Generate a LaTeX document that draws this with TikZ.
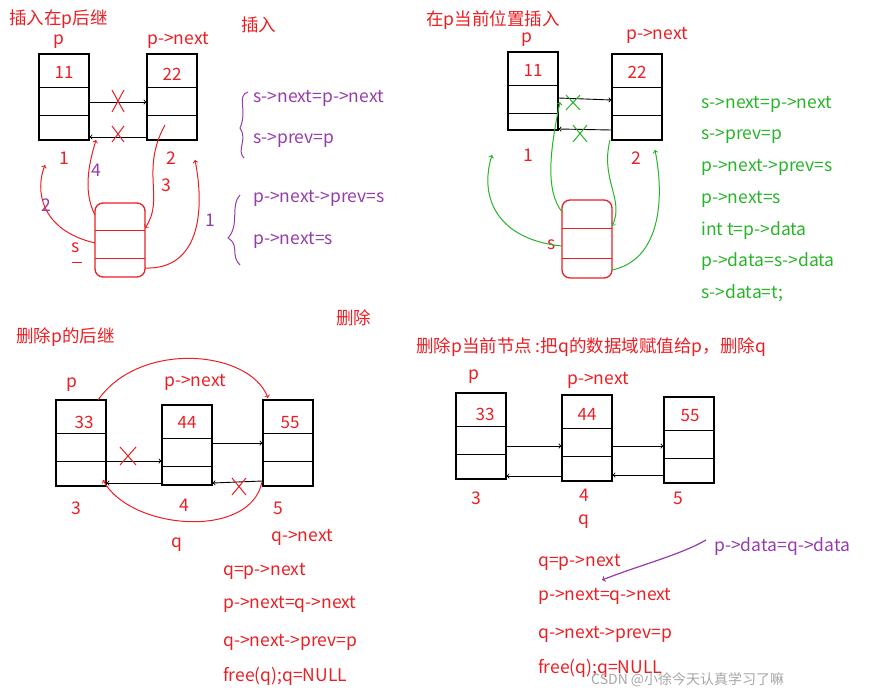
\documentclass[tikz,border=0pt]{standalone}
\usepackage{fontspec}
\setmainfont{Noto Sans CJK SC}
\usetikzlibrary{calc}
\definecolor{rd}{RGB}{235,30,35}
\definecolor{pu}{RGB}{150,60,170}
\definecolor{gr}{RGB}{40,180,40}
\tikzset{
 cell/.style={draw=black,line width=1.3pt,minimum width=50pt,minimum height=86pt,inner sep=0pt},
 rl/.style={rd,line width=1pt},
 gl/.style={gr,line width=1pt},
 bl/.style={black,line width=0.9pt,->},
 t/.style={font=\fontsize{17.5}{19}\selectfont,inner sep=1pt,anchor=west},
 num/.style={font=\fontsize{17}{19}\selectfont,rd},
}
\newcommand{\rows}[1]{\draw[line width=1.3pt] ($(#1.north west)+(0,34)$)--($(#1.north east)+(0,34)$) ($(#1.north west)+(0,62)$)--($(#1.north east)+(0,62)$);}
\begin{document}
\begin{tikzpicture}[x=1pt,y=-1pt]
\useasboundingbox (0,0) rectangle (878,699);
% ---------- top left
\node[t,rd] (h1) at (8,19) {插入在p后继};
\node[t,rd] (h2) at (240,25) {插入};
\node[t,rd] (lp1) at (52,42) {p};
\node[t,rd] (ln1) at (146,40) {p->next};
\node[cell] (a1) at (64,97) {}; \rows{a1}
\node[cell] (a2) at (172,97) {}; \rows{a2}
\node[num] at (64,72) {11};
\node[num] at (172,74) {22};
\draw[bl] ($(a1.east)+(0,5)$) -- ($(a2.west)+(0,5)$);
\draw[bl] ($(a2.west)+(0,40)$) -- ($(a1.east)+(0,40)$);
\draw[rl] (112,90)--(124,112) (112,112)--(124,90);
\draw[rl] (112,126)--(124,142) (112,142)--(124,126);
\node[draw=rd,line width=1.3pt,rounded corners=8pt,minimum width=50pt,minimum height=74pt] (s1) at (120,240) {};
\draw[rd,line width=1pt] (95,230)--(145,230) (95,258)--(145,258);
\node[t,rd] at (58,158) {1}; \node[t,pu] at (90,170) {4};
\node[t,rd] at (165,158) {2}; \node[t,rd] at (160,185) {3};
\node[t,pu] at (40,205) {2}; \node[t,pu] at (204,220) {1};
\node[t,rd] at (70,248) {s};
\draw[rd] (72,262)--(82,262);
\draw[rl,->] (95,243) .. controls (40,230) and (35,190) .. (45,165);
\draw[rl,->] (95,215) .. controls (82,190) and (90,160) .. (96,140);
\draw[rl,->] (165,125) .. controls (140,170) and (165,200) .. (145,228);
\draw[rl,->] (145,268) .. controls (200,270) and (205,210) .. (195,160);
\draw[pu,line width=1pt] (248,92) .. controls (236,96) and (248,110) .. (240,128) .. controls (248,140) and (236,150) .. (244,158);
\node[t,pu] at (252,98) {s->next=p->next};
\node[t,pu] at (252,140) {s->prev=p};
\draw[pu,line width=1pt] (240,195) .. controls (230,205) and (240,225) .. (228,238) .. controls (240,245) and (230,255) .. (240,265);
\node[t,pu] at (252,198) {p->next->prev=s};
\node[t,pu] at (252,240) {p->next=s};
% ---------- top right
\node[t,rd] at (425,20) {在p当前位置插入};
\node[t,rd] at (520,40) {p};
\node[t,rd] at (625,35) {p->next};
\node[cell,minimum height=78pt] (b1) at (533,91) {}; \rows{b1}
\node[cell] (b2) at (637,97) {}; \rows{b2}
\node[num] at (533,70) {11};
\node[num] at (637,72) {22};
\draw[bl] ($(b1.east)+(0,7)$) -- ($(b2.west)+(0,3)$);
\draw[bl] ($(b2.west)+(0,33)$) -- ($(b1.east)+(0,38)$);
\node[t,rd] at (522,155) {1}; \node[t,rd] at (630,158) {2};
\node[draw=rd,line width=1.3pt,rounded corners=8pt,minimum width=50pt,minimum height=78pt] (s2) at (587,239) {};
\draw[rd,line width=1pt] (562,228)--(612,228) (562,258)--(612,258);
\node[t,rd] at (546,245) {s};
\draw[gl,->] (562,246) .. controls (500,240) and (478,200) .. (492,155);
\draw[gl,->] (562,212) .. controls (545,190) and (550,150) .. (560,102);
\draw[gl,->] (610,140) .. controls (600,180) and (625,200) .. (612,226);
\draw[gl,->] (612,270) .. controls (660,260) and (665,200) .. (655,150);
\draw[gl] (566,95)--(580,110) (566,110)--(580,95);
\draw[gl] (573,125)--(587,142) (573,142)--(587,125);
\foreach \s [count=\i] in {s->next=p->next,s->prev=p,p->next->prev=s,p->next=s,int t=p->data,p->data=s->data,s->data=t;}
  \node[t,gr] at (700,{73+31.5*\i}) {\s};
% ---------- bottom left
\node[t,rd] at (15,337) {删除p的后继};
\node[t,rd] at (335,318) {删除};
\node[t,rd] at (65,385) {p};
\node[t,rd] at (163,382) {p->next};
\node[cell] (c1) at (81,443) {}; \rows{c1}
\node[cell,minimum height=80pt] (c2) at (187,445) {}; \rows{c2}
\node[cell] (c3) at (288,443) {}; \rows{c3}
\node[num] at (84,422) {33};
\node[num] at (187,422) {44};
\node[num] at (290,423) {55};
\draw[bl] ($(c1.east)+(0,18)$) -- ($(c2.west)+(0,16)$);
\draw[bl] ($(c2.west)+(0,38)$) -- ($(c1.east)+(0,40)$);
\draw[bl] ($(c2.east)+(0,-2)$) -- ($(c3.west)+(0,0)$);
\draw[bl] ($(c3.west)+(0,38)$) -- ($(c2.east)+(0,38)$);
\draw[rl] (120,447)--(136,465) (120,465)--(136,447);
\draw[rl] (232,478)--(246,495) (232,495)--(246,478);
\draw[rl,->] (98,400) .. controls (140,340) and (250,350) .. (268,398);
\draw[rl,->] (262,482) .. controls (250,540) and (130,530) .. (103,480);
\node[t,rd] at (70,508) {3}; \node[t,rd] at (178,505) {4}; \node[t,rd] at (272,508) {5};
\node[t,rd] at (170,545) {q};
\foreach \s/\y in {q->next/537,q=p->next/571,p->next=q->next/604,q->next->prev=p/642,free(q);q=NULL/676}
  \node[t,rd] at ({\y==537 ? 270 : 222},\y) {\s};
% ---------- bottom right
\node[t,rd] at (415,347) {删除p当前节点 :把q的数据域赋值给p，删除q};
\node[t,rd] at (467,377) {p};
\node[t,rd] at (566,380) {p->next};
\node[cell] (d1) at (481,436) {}; \rows{d1}
\node[cell] (d2) at (587,438) {}; \rows{d2}
\node[cell] (d3) at (689,440) {}; \rows{d3}
\node[num] at (485,414) {33};
\node[num] at (587,414) {44};
\node[num] at (690,416) {55};
\draw[bl] ($(d1.east)+(0,10)$) -- ($(d2.west)+(0,8)$);
\draw[bl] ($(d2.west)+(0,38)$) -- ($(d1.east)+(0,40)$);
\draw[bl] ($(d2.east)+(0,8)$) -- ($(d3.west)+(0,6)$);
\draw[bl] ($(d3.west)+(0,35)$) -- ($(d2.east)+(0,37)$);
\node[t,rd] at (470,498) {3}; \node[t,rd] at (578,495) {4}; \node[t,rd] at (672,498) {5};
\node[t,rd] at (577,522) {q};
\foreach \s/\y in {q=p->next/562,p->next=q->next/596,q->next->prev=p/634,free(q);q=NULL/668}
  \node[t,rd] at (537,\y) {\s};
\node[t,pu] at (713,547) {p->data=q->data};
\draw[pu,line width=1.2pt,->] (706,540) .. controls (680,555) and (640,565) .. (602,580);
\node[t,black!35,font=\fontsize{14}{16}\selectfont] at (590,680) {CSDN @小徐今天认真学习了嘛};
\end{tikzpicture}
\end{document}
